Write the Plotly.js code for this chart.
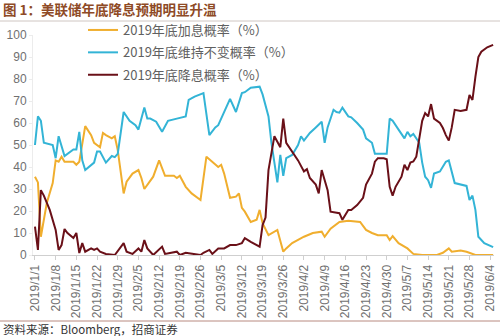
<!DOCTYPE html>
<html>
<head>
<meta charset="utf-8">
<script src="https://cdn.plot.ly/plotly-3.0.1.min.js"></script>
<style>
  html, body { margin: 0; padding: 0; background: #fff; }
  #chart { width: 500px; height: 336px; }
</style>
</head>
<body>
<div id="chart"></div>
<script>
// 2019年底加息概率（%）
const hikeDates = ['2019-01-01','2019-01-02','2019-01-03','2019-01-04','2019-01-05','2019-01-07','2019-01-08','2019-01-09','2019-01-10','2019-01-11','2019-01-14','2019-01-15','2019-01-16','2019-01-18','2019-01-20','2019-01-21','2019-01-23','2019-01-24','2019-01-25','2019-01-27','2019-01-28','2019-01-29','2019-01-31','2019-02-01','2019-02-03','2019-02-05','2019-02-06','2019-02-07','2019-02-10','2019-02-12','2019-02-14','2019-02-17','2019-02-18','2019-02-19','2019-02-21','2019-02-23','2019-02-26','2019-02-28','2019-03-02','2019-03-04','2019-03-05','2019-03-06','2019-03-08','2019-03-10','2019-03-11','2019-03-12','2019-03-13','2019-03-15','2019-03-17','2019-03-18','2019-03-19','2019-03-21','2019-03-24','2019-03-25','2019-03-26','2019-03-27','2019-03-29','2019-04-02','2019-04-05','2019-04-08','2019-04-09','2019-04-11','2019-04-14','2019-04-17','2019-04-21','2019-04-23','2019-04-25','2019-04-27','2019-04-30','2019-05-01','2019-05-02','2019-05-04','2019-05-06','2019-05-07','2019-05-09','2019-05-12','2019-05-17','2019-05-19','2019-05-21','2019-05-22','2019-05-25','2019-05-27','2019-05-30','2019-06-05'];
const hikeVals  = [35.6,33,8.3,17,23.6,32.7,43,42.4,44.7,42.4,42.4,41,42.4,58.6,54.5,51,49,55.5,54.5,53,54,47.7,28,33.3,37,38.6,35,30,35.6,43,36,36,35,36,31,28,25,44.7,42.4,40,41,37,26,26.5,28,21.4,19.7,15,16,20.5,14.5,9,11.4,6.8,1.5,3,5.4,8.3,10,10.6,8.3,12,15,15.6,15,11.4,10,9,9,6.8,8.6,5.4,3.8,3,0.5,0,0,1,3,1.5,2,1.5,0,0];

// 2019年底维持不变概率（%）
const holdDates = ['2019-01-01','2019-01-02','2019-01-03','2019-01-04','2019-01-07','2019-01-08','2019-01-09','2019-01-11','2019-01-14','2019-01-15','2019-01-16','2019-01-17','2019-01-18','2019-01-21','2019-01-22','2019-01-23','2019-01-25','2019-01-27','2019-01-28','2019-01-29','2019-01-31','2019-02-02','2019-02-04','2019-02-05','2019-02-07','2019-02-08','2019-02-09','2019-02-11','2019-02-13','2019-02-15','2019-02-18','2019-02-21','2019-02-22','2019-02-24','2019-02-27','2019-03-01','2019-03-03','2019-03-04','2019-03-08','2019-03-10','2019-03-12','2019-03-13','2019-03-15','2019-03-18','2019-03-19','2019-03-21','2019-03-22','2019-03-23','2019-03-24','2019-03-25','2019-03-26','2019-03-27','2019-03-29','2019-03-31','2019-04-01','2019-04-02','2019-04-04','2019-04-06','2019-04-08','2019-04-09','2019-04-10','2019-04-12','2019-04-13','2019-04-14','2019-04-15','2019-04-17','2019-04-18','2019-04-20','2019-04-22','2019-04-23','2019-04-25','2019-04-26','2019-04-30','2019-05-01','2019-05-02','2019-05-04','2019-05-06','2019-05-07','2019-05-08','2019-05-09','2019-05-11','2019-05-12','2019-05-13','2019-05-14','2019-05-15','2019-05-16','2019-05-18','2019-05-20','2019-05-21','2019-05-23','2019-05-25','2019-05-27','2019-05-28','2019-05-29','2019-05-30','2019-05-31','2019-06-02','2019-06-05'];
const holdVals  = [50,63,61,51,50,44,54,45,48,48,56,43,38.6,42,47,47,42,45,44.5,46,65,61,59,57,67,62,62,60.6,56,61,62,63,70.5,72,73.6,54.5,58,59,71,65,73.6,74,76,76.5,73,63,51,42,33,45.5,36,44,45.5,50,54,52,55.5,58,60.6,51,58,66,65,64.7,67,63,62.6,60,57,53,51,46,46,62,61,57,53,56,54,55,51,42,35.6,34,30.5,37,38,42.4,43,32.7,32,31.4,25,27,20.5,8.3,5.4,3.6];

// 2019年底降息概率（%）
const cutDates = ['2019-01-01','2019-01-02','2019-01-03','2019-01-04','2019-01-06','2019-01-08','2019-01-09','2019-01-10','2019-01-11','2019-01-12','2019-01-14','2019-01-15','2019-01-16','2019-01-17','2019-01-18','2019-01-20','2019-01-21','2019-01-22','2019-01-23','2019-01-25','2019-01-28','2019-01-31','2019-02-01','2019-02-03','2019-02-05','2019-02-06','2019-02-07','2019-02-08','2019-02-10','2019-02-13','2019-02-14','2019-02-18','2019-02-19','2019-02-21','2019-02-26','2019-02-27','2019-03-01','2019-03-02','2019-03-04','2019-03-06','2019-03-08','2019-03-10','2019-03-12','2019-03-13','2019-03-15','2019-03-17','2019-03-18','2019-03-19','2019-03-20','2019-03-21','2019-03-22','2019-03-23','2019-03-25','2019-03-26','2019-03-27','2019-03-28','2019-03-31','2019-04-02','2019-04-03','2019-04-04','2019-04-06','2019-04-07','2019-04-08','2019-04-10','2019-04-11','2019-04-14','2019-04-15','2019-04-17','2019-04-18','2019-04-20','2019-04-22','2019-04-23','2019-04-25','2019-04-26','2019-04-27','2019-04-29','2019-04-30','2019-05-01','2019-05-02','2019-05-03','2019-05-05','2019-05-06','2019-05-07','2019-05-08','2019-05-09','2019-05-10','2019-05-11','2019-05-12','2019-05-13','2019-05-14','2019-05-15','2019-05-16','2019-05-18','2019-05-19','2019-05-20','2019-05-21','2019-05-22','2019-05-23','2019-05-25','2019-05-27','2019-05-28','2019-05-29','2019-05-30','2019-05-31','2019-06-01','2019-06-03','2019-06-05'];
const cutVals  = [12.9,2.3,29.5,27,20.5,11.4,2.3,4.5,11.8,10,7.7,10,0.9,5.4,1.5,3,2.3,3,1.5,0.5,0,5.4,1.5,0.5,3,1.5,6.8,3,0,3.8,0.5,1.5,0,1,0,1,2.3,0.5,3,3,4.5,4.5,5.4,7.7,6,4.5,3.8,13.6,17,38.6,46,54,49,62,51,49,43,38,39,35,32,28,38.6,29.5,19.7,19,16,20.5,20.5,22.7,26,32,37,42.4,44,44,43.5,31,27,31,35.6,41,38.6,42,42.5,44.7,52,61,64.5,63,68.6,62,60,57.7,54.5,52,58,66,65.5,66,72.7,70.5,81,90,92.4,94.4,95.5];

const seriesNames = ['2019年底加息概率（%）', '2019年底维持不变概率（%）', '2019年底降息概率（%）'];
const seriesColors = ['#F0AE2E', '#33B4D6', '#6A1018'];

const yTickVals = [0, 10, 20, 30, 40, 50, 60, 70, 80, 90, 100];

// plot area in pixels: left 33, right 494, top 35, bottom 255
const PL = 33, PR = 494, PT = 35, PB = 255;
const px = x => (x - PL) / (PR - PL);
const py = y => (PB - y) / (PB - PT);

const cjk = '"Noto Sans CJK SC", "Noto Sans", sans-serif';

const traces = [
  {x: hikeDates, y: hikeVals},
  {x: holdDates, y: holdVals},
  {x: cutDates, y: cutVals}
].map((s, i) => ({
  type: 'scatter',
  mode: 'lines',
  x: s.x,
  y: s.y,
  name: seriesNames[i],
  legendgroup: 'g' + i,
  line: {color: seriesColors[i], width: 2}
}));

const layout = {
  width: 500,
  height: 336,
  margin: {l: PL, r: 500 - PR, t: PT, b: 336 - PB},
  paper_bgcolor: '#fff',
  plot_bgcolor: '#fff',
  font: {family: '"Liberation Sans", Arial, sans-serif', color: '#595959', size: 11},
  title: {
    text: '<b>图 1：美联储年底降息预期明显升温</b>',
    font: {family: cjk, size: 13.5, color: '#8E4A26'},
    xref: 'container', yref: 'container',
    x: 0.006, xanchor: 'left',
    y: 1 - 10 / 336, yanchor: 'middle'
  },
  showlegend: true,
  legend: {
    x: px(83), xanchor: 'left',
    y: py(15), yanchor: 'top',
    bgcolor: 'rgba(0,0,0,0)',
    font: {family: cjk, size: 13, color: '#606060'},
    tracegroupgap: 2.5,
    itemwidth: 30
  },
  xaxis: {
    type: 'date',
    range: ['2018-12-31 08:00', '2019-06-05 07:00'],
    tick0: '2019-01-01',
    dtick: 7 * 86400000,
    tickformat: '%Y/%-m/%-d',
    tickangle: -90,
    tickfont: {size: 12, color: '#707070'},
    showgrid: false,
    zeroline: false,
    showline: true,
    linecolor: '#cfcfcf',
    linewidth: 1,
    ticks: 'outside',
    ticklen: 4,
    tickcolor: '#cfcfcf'
  },
  yaxis: {
    range: [0, 100],
    tickvals: yTickVals,
    tickfont: {size: 12, color: '#707070'},
    showgrid: false,
    zeroline: false,
    showline: true,
    linecolor: '#ececec',
    ticks: 'outside',
    ticklen: 3,
    tickcolor: '#ececec'
  },
  shapes: [
    {type: 'line', xref: 'paper', yref: 'paper', x0: px(0), x1: px(500), y0: py(21), y1: py(21),
     line: {color: '#cfc6c2', width: 1}},
    {type: 'line', xref: 'paper', yref: 'paper', x0: px(0), x1: px(500), y0: py(321), y1: py(321),
     line: {color: '#b88a80', width: 1}}
  ],
  annotations: [
    {text: '资料来源：Bloomberg，招商证券', xref: 'paper', yref: 'paper',
     x: px(1), y: py(329), xanchor: 'left', yanchor: 'middle', showarrow: false,
     font: {family: cjk, size: 11.5, color: '#333333'}}
  ]
};

Plotly.newPlot('chart', traces, layout, {staticPlot: true, displayModeBar: false});
</script>
</body>
</html>
